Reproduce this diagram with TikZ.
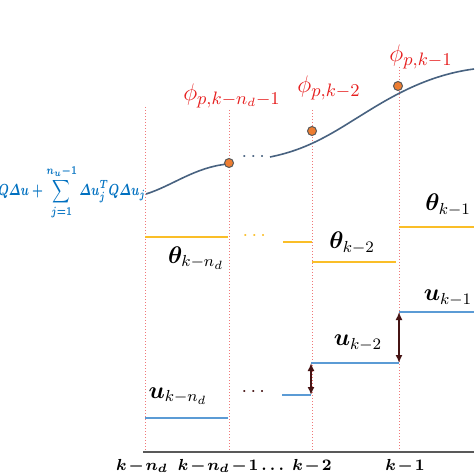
\documentclass[tikz,border=0pt]{standalone}
\usepackage{amsmath, bm, graphicx}
\usetikzlibrary{arrows.meta, positioning, calc}
\definecolor{PhiRed}{RGB}{230,30,30}
\definecolor{CostBlue}{RGB}{0,112,192}
\definecolor{ThetaGold}{RGB}{250,190,40}
\definecolor{InputBlue}{RGB}{91,155,213}
\definecolor{CurveSlate}{RGB}{72,98,128}
\definecolor{OrangeDot}{RGB}{237,125,49}
\definecolor{AxisGray}{RGB}{89,89,89}
\definecolor{StepMaroon}{RGB}{70,20,20}
\definecolor{GridRed}{RGB}{240,120,120}
\newcommand{\tickspacing}{\medmuskip=2mu\thickmuskip=3mu\relax}

\tikzset{
  timeline/.style={GridRed, densely dotted, line width=0.5pt},
  thetaseg/.style={ThetaGold, line width=1.2pt},
  useg/.style={InputBlue, line width=1.2pt},
  phicurve/.style={CurveSlate, line width=0.8pt},
  phidot/.style={circle, fill=OrangeDot, draw=AxisGray, line width=0.5pt, inner sep=0pt, minimum size=4.5pt},
  philabel/.style={PhiRed, font=\fontsize{13}{15}\selectfont},
  statelabel/.style={font=\fontsize{12}{14}\selectfont},
  ticklabel/.style={font=\fontsize{8}{10}\selectfont\tickspacing},
  jump/.style={StepMaroon, line width=0.8pt, {Latex[length=4pt,width=3.5pt]}-{Latex[length=4pt,width=3.5pt]}},
}

\begin{document}
\begin{tikzpicture}[x=0.5pt, y=-0.5pt]
  \useasboundingbox (0,0) rectangle (474,474);

  % time instants and axis
  \foreach \name/\x/\top in {a/145/107, b/229/110, c/312/110, d/399/67}{
    \coordinate (\name bot) at (\x,452);
    \coordinate (\name top) at (\x,\top);
    \draw[timeline] (\name top) -- (\name bot);
  }
  \coordinate (axisL) at (143,452);
  \coordinate (axisR) at (474,452);
  \draw[AxisGray, line width=1.2pt] (axisL) -- (axisR);

  \node[ticklabel] (tka) at (142,466) {$\bm{k-n_d}$};
  \node[ticklabel] (tkb) at (231,466) {$\bm{k-n_d-1\ldots}$};
  \node[ticklabel] (tkc) at (312,466) {$\bm{k-2}$};
  \node[ticklabel] (tkd) at (405,466) {$\bm{k-1}$};

  % cost along the horizon
  \node[anchor=east, CostBlue, inner sep=0pt, font=\fontsize{8.5}{10}\selectfont\boldmath] (cost) at (146,192)
    {\scalebox{0.72}[1]{$\displaystyle \varDelta u^T Q\varDelta u+\sum_{j=1}^{n_u-1}\varDelta u_j^T Q\varDelta u_j$}};
  \draw[phicurve] (146,194) .. controls (172,186) and (195,167) .. (228,164);
  \node[CurveSlate] (phidots) at (255,157) {$\cdots$};
  \draw[phicurve] (270,157) .. controls (300,151) and (322,140) .. (352,121)
                  .. controls (380,104) and (420,76) .. (474,69);

  \node[phidot] (dotb) at (229,163) {};
  \node[phidot] (dotc) at (312,131) {};
  \node[phidot] (dotd) at (398,86) {};
  \node[philabel] (phib) at (232,96) {$\phi_{p,k-n_d-1}$};
  \node[philabel] (phic) at (329,88) {$\phi_{p,k-2}$};
  \node[philabel] (phid) at (421,57) {$\phi_{p,k-1}$};

  % parameters theta
  \draw[thetaseg] (145,237) -- (228,237);
  \node[ThetaGold] (thdots) at (256,236) {$\cdots$};
  \draw[thetaseg] (283,242) -- (312,242);
  \draw[thetaseg] (312,262) -- (396,262);
  \draw[thetaseg] (399,227) -- (474,227);
  \node[statelabel] (tha) at (196,258) {$\bm{\theta}_{k-n_d}$};
  \node[statelabel] (thc) at (352,243) {$\bm{\theta}_{k-2}$};
  \node[statelabel] (thd) at (448,205) {$\bm{\theta}_{k-1}$};

  % inputs u
  \coordinate (ub0) at (282,395);
  \coordinate (ub1) at (311,395);
  \coordinate (uc0) at (311,363);
  \coordinate (uc1) at (399,363);
  \coordinate (ud0) at (399,312);
  \coordinate (ud1) at (474,312);
  \draw[useg] (145,418) -- (228,418);
  \node[StepMaroon] (udots) at (255,392) {$\cdots$};
  \draw[useg] (ub0) -- (ub1);
  \draw[useg] (uc0) -- (uc1);
  \draw[useg] (ud0) -- (ud1);
  \draw[jump] (ub1) -- (uc0);
  \draw[jump] (uc1) -- (ud0);
  \node[statelabel] (ua) at (178,396) {$\bm{u}_{k-n_d}$};
  \node[statelabel] (uc) at (358,343) {$\bm{u}_{k-2}$};
  \node[statelabel] (ud) at (448,298) {$\bm{u}_{k-1}$};
\end{tikzpicture}
\end{document}
